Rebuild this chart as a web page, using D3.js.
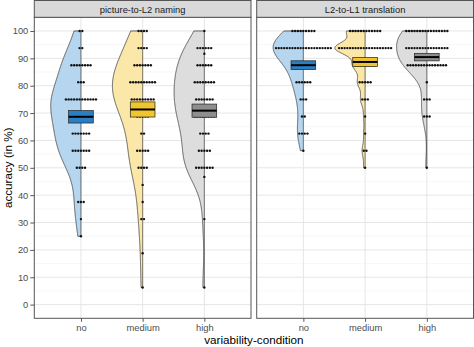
<!DOCTYPE html>
<html>
<head>
<meta charset="utf-8">
<script src="https://cdn.jsdelivr.net/npm/d3@7"></script>
<style>
  body { margin: 0; background: #fff; }
  svg { display: block; font-family: "Liberation Sans", Arial, sans-serif; }
</style>
</head>
<body>
<div id="chart"></div>
<script>
// facets, conditions, axis ticks
var tasks = ["picture-to-L2 naming", "L2-to-L1 translation"];
var conditions = ["no", "medium", "high"];
var yTicks = [0, 10, 20, 30, 40, 50, 60, 70, 80, 90, 100];
var yMinor = [5, 15, 25, 35, 45, 55, 65, 75, 85, 95];

// box (mean) colours and the lighter violin colours
var boxColors = ["#2a7ec4", "#f0c52e", "#8e8e8e"];
var violinColors = ["#b6d6ef", "#fbe7a8", "#dddddd"];

// accuracy levels (%) and number of participants at each level
var levels = [100, 93.75, 91.67, 87.5, 81.25, 75, 68.75, 62.5, 56.25, 50, 46.67, 43.75, 37.5, 31.25, 25, 18.75, 12.5, 6.25];
var namingNo          = [2, 2, 0, 8, 3, 12, 6, 7, 7, 4, 0, 0, 3, 1, 1, 0, 0, 0];
var namingMedium      = [4, 4, 0, 7, 10, 9, 5, 2, 5, 4, 0, 1, 1, 2, 0, 1, 0, 1];
var namingHigh        = [1, 6, 1, 6, 8, 7, 8, 4, 5, 7, 1, 0, 0, 1, 0, 0, 0, 1];
var translationNo     = [9, 21, 0, 7, 6, 3, 2, 4, 1, 0, 0, 0, 0, 0, 0, 0, 0, 0];
var translationMedium = [12, 20, 0, 8, 5, 3, 1, 1, 2, 1, 0, 0, 0, 0, 0, 0, 0, 0];
var translationHigh   = [16, 16, 0, 15, 1, 3, 3, 0, 0, 1, 0, 0, 0, 0, 0, 0, 0, 0];

// density bandwidth multiplier per facet
var bwAdjust = [1, 1.25];

var counts = [
  [namingNo, namingMedium, namingHigh],
  [translationNo, translationMedium, translationHigh]
];

var w = 474, h = 347;
var panelTop = 17.3, panelBottom = 318.3;
var panels = [[34.3, 251], [256.7, 473.5]];

var svg = d3.select("#chart").append("svg")
  .attr("width", w)
  .attr("height", h);

var y = d3.scaleLinear().domain([-5, 105]).range([panelBottom, panelTop]);
var dotStep = y(0) - y(1);

// expand counts to individual values
function expand(cnt) {
  var vals = [];
  cnt.forEach(function(c, i) {
    for (var k = 0; k < c; k++) vals.push(levels[i]);
  });
  return vals.sort(d3.ascending);
}

// R's nrd0 bandwidth
function nrd0(v) {
  var sd = d3.deviation(v);
  var iqr = d3.quantileSorted(v, 0.75) - d3.quantileSorted(v, 0.25);
  var lo = Math.min(sd, iqr / 1.34);
  if (!(lo > 0)) lo = sd || Math.abs(v[0]) || 1;
  return 0.9 * lo * Math.pow(v.length, -0.2);
}

function kde(v, adjust) {
  var bw = nrd0(v) * adjust;
  var lo = d3.min(v), hi = d3.max(v);
  var pts = d3.range(512).map(function(i) { return lo + (hi - lo) * i / 511; });
  return pts.map(function(p) {
    var s = 0;
    v.forEach(function(x) {
      var z = (p - x) / bw;
      s += Math.exp(-0.5 * z * z);
    });
    return { v: p, d: s / (v.length * bw * Math.sqrt(2 * Math.PI)) };
  });
}

tasks.forEach(function(task, t) {
  var x0 = panels[t][0], x1 = panels[t][1];
  var x = d3.scalePoint().domain(conditions).range([x0, x1]).padding(0.756);
  var step = x.step();
  var g = svg.append("g");

  // panel background and grid
  g.append("rect")
    .attr("x", x0).attr("y", panelTop)
    .attr("width", x1 - x0).attr("height", panelBottom - panelTop)
    .attr("fill", "#fff");
  g.selectAll("line.minor").data(yMinor).enter().append("line")
    .attr("x1", x0).attr("x2", x1)
    .attr("y1", function(d) { return y(d); })
    .attr("y2", function(d) { return y(d); })
    .attr("stroke", "#f2f2f2").attr("stroke-width", 0.6);
  g.selectAll("line.major").data(yTicks).enter().append("line")
    .attr("x1", x0).attr("x2", x1)
    .attr("y1", function(d) { return y(d); })
    .attr("y2", function(d) { return y(d); })
    .attr("stroke", "#e6e6e6").attr("stroke-width", 1);
  g.selectAll("line.vgrid").data(conditions).enter().append("line")
    .attr("x1", function(d) { return x(d); })
    .attr("x2", function(d) { return x(d); })
    .attr("y1", panelTop).attr("y2", panelBottom)
    .attr("stroke", "#e6e6e6").attr("stroke-width", 1);

  var groups = conditions.map(function(c, i) {
    var vals = expand(counts[t][i]);
    var dens = kde(vals, bwAdjust[t]);
    // scale = "width": every half violin reaches the same maximum width
    var maxD = d3.max(dens, function(d) { return d.d; });
    dens.forEach(function(d) { d.w = d.d / maxD; });
    return { cond: c, i: i, vals: vals, dens: dens };
  });

  // half violins (left side)
  groups.forEach(function(gr) {
    var cx = x(gr.cond);
    var area = d3.area()
      .y(function(d) { return y(d.v); })
      .x0(cx)
      .x1(function(d) { return cx - 0.49 * step * d.w; });
    g.append("path")
      .attr("d", area(gr.dens))
      .attr("fill", violinColors[gr.i])
      .attr("stroke", "#333")
      .attr("stroke-width", 0.75);
  });

  // centred dot plots
  groups.forEach(function(gr) {
    var cx = x(gr.cond);
    var dots = [];
    counts[t][gr.i].forEach(function(c, li) {
      for (var k = 0; k < c; k++) {
        dots.push({ v: levels[li], off: (k - (c - 1) / 2) * dotStep });
      }
    });
    g.selectAll(null).data(dots).enter().append("circle")
      .attr("cx", function(d) { return cx + d.off; })
      .attr("cy", function(d) { return y(d.v); })
      .attr("r", 1.2)
      .attr("fill", "#111");
  });

  // mean +/- SE crossbars
  groups.forEach(function(gr) {
    var cx = x(gr.cond);
    var m = d3.mean(gr.vals);
    var se = d3.deviation(gr.vals) / Math.sqrt(gr.vals.length);
    var bw = 0.4 * step;
    g.append("rect")
      .attr("x", cx - bw / 2).attr("width", bw)
      .attr("y", y(m + se)).attr("height", y(m - se) - y(m + se))
      .attr("fill", boxColors[gr.i])
      .attr("stroke", "#222").attr("stroke-width", 0.7);
    g.append("line")
      .attr("x1", cx - bw / 2).attr("x2", cx + bw / 2)
      .attr("y1", y(m)).attr("y2", y(m))
      .attr("stroke", "#000").attr("stroke-width", 2);
  });

  // panel border
  g.append("rect")
    .attr("x", x0).attr("y", panelTop)
    .attr("width", x1 - x0).attr("height", panelBottom - panelTop)
    .attr("fill", "none").attr("stroke", "#555").attr("stroke-width", 1);

  // strip
  g.append("rect")
    .attr("x", x0).attr("y", 0.5)
    .attr("width", x1 - x0).attr("height", panelTop - 0.5)
    .attr("fill", "#d9d9d9").attr("stroke", "#555").attr("stroke-width", 1);
  g.append("text")
    .attr("x", (x0 + x1) / 2).attr("y", 12.8)
    .attr("text-anchor", "middle")
    .attr("font-size", "9.35px")
    .attr("fill", "#1a1a1a")
    .text(task);

  // x axis
  var xAxis = d3.axisBottom(x).tickSize(3.5).tickPadding(2.5);
  var xa = g.append("g").attr("transform", "translate(0," + panelBottom + ")").call(xAxis);
  xa.select(".domain").remove();
  xa.selectAll("line").attr("stroke", "#555");
  xa.selectAll("text").attr("font-size", "9.35px").attr("fill", "#4d4d4d")
    .attr("font-family", "Liberation Sans, Arial, sans-serif");

  // y axis on the first panel only
  if (t === 0) {
    var yAxis = d3.axisLeft(y).tickValues(yTicks).tickSize(4).tickPadding(2);
    var ya = g.append("g").attr("transform", "translate(" + x0 + ",0)").call(yAxis);
    ya.select(".domain").remove();
    ya.selectAll("line").attr("stroke", "#555");
    ya.selectAll("text").attr("font-size", "9.35px").attr("fill", "#4d4d4d")
      .attr("font-family", "Liberation Sans, Arial, sans-serif");
  }
});

// axis titles
svg.append("text")
  .attr("x", (panels[0][0] + panels[1][1]) / 2).attr("y", 343.5)
  .attr("text-anchor", "middle")
  .attr("font-size", "11.7px")
  .attr("fill", "#000")
  .text("variability-condition");

svg.append("text")
  .attr("transform", "translate(12," + (panelTop + panelBottom) / 2 + ") rotate(-90)")
  .attr("text-anchor", "middle")
  .attr("font-size", "11.7px")
  .attr("fill", "#000")
  .text("accuracy (in %)");
</script>
</body>
</html>
